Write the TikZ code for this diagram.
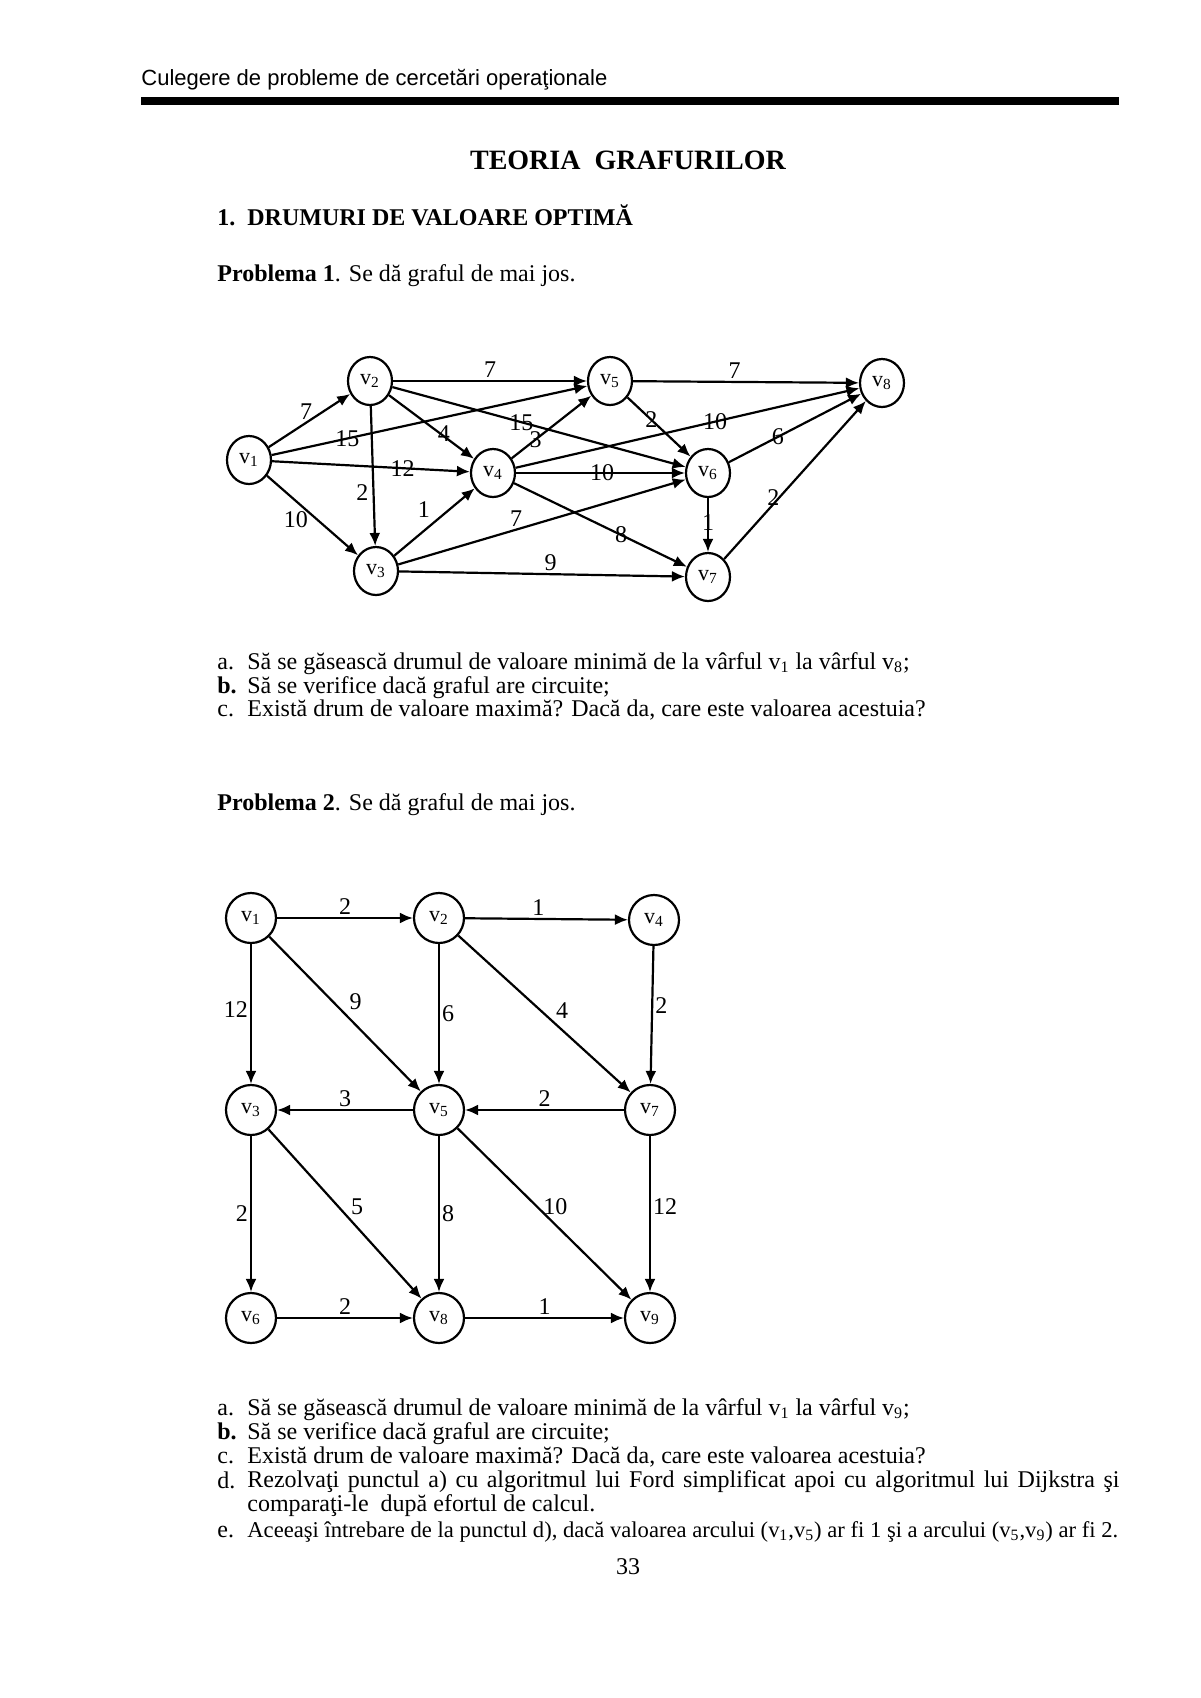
\documentclass[tikz,border=0pt]{standalone}
\usepackage{fontspec}
\setmainfont{Liberation Serif}
\newfontfamily\hdrfont{Liberation Sans}
\usetikzlibrary{positioning, shapes.geometric, arrows.meta}

\begin{document}
\begin{tikzpicture}[
    x=0.5pt, y=-0.5pt,
    vertex/.style={draw, ellipse, line width=1.1pt, minimum width=22pt,
                   minimum height=24pt, inner sep=0pt,
                   font=\fontsize{11}{11}\selectfont},
    vertexb/.style={draw, circle, line width=1.1pt, minimum size=25pt,
                    inner sep=0pt, font=\fontsize{11}{11}\selectfont},
    arw/.style={-{Latex[length=6.5pt, width=5.5pt]}, line width=1.1pt},
    weight/.style={font=\fontsize{12}{12}\selectfont, inner sep=1pt},
    txt/.style={anchor=base west, inner sep=0pt,
                font=\fontsize{12}{12}\selectfont},
]
\useasboundingbox[fill=white] (0,0) rectangle (1200,1698);

% --- Page head ---
\node[anchor=base west, inner sep=0pt, font=\hdrfont\fontsize{11}{11}\selectfont]
    (head) at (141,85) {Culegere de probleme de cercetări operaţionale};
\fill (141,97) rectangle (1119,105);
\node[anchor=base, inner sep=0pt, font=\bfseries\fontsize{14}{14}\selectfont]
    (title) at (628,169) {TEORIA\ \ GRAFURILOR};
\node[txt, font=\bfseries\fontsize{12}{12}\selectfont] (sect) at (217,225)
    {1.\ \ DRUMURI DE VALOARE OPTIMĂ};
\node[txt] (prob1) at (217,281) {\textbf{Problema 1}. Se dă graful de mai jos.};

% --- Graph 1 ---
\node[vertex] (a1) at (249,460) {v\textsubscript{1}};
\node[vertex] (a2) at (370,381) {v\textsubscript{2}};
\node[vertex] (a3) at (376,571) {v\textsubscript{3}};
\node[vertex] (a4) at (493,473) {v\textsubscript{4}};
\node[vertex] (a5) at (610,381) {v\textsubscript{5}};
\node[vertex] (a6) at (708,473) {v\textsubscript{6}};
\node[vertex] (a7) at (708,577) {v\textsubscript{7}};
\node[vertex] (a8) at (882,383) {v\textsubscript{8}};

\draw[arw] (a1) -- node[weight, pos=.46, above] {7} (a2);
\draw[arw] (a1) -- node[weight, pos=.24] {15} (a5);
\draw[arw] (a1) -- node[weight, pos=.66] {12} (a4);
\draw[arw] (a1) -- node[weight, pos=.55, left=3pt] {10} (a3);
\draw[arw] (a2) -- node[weight, pos=.5, above] {7} (a5);
\draw[arw] (a2) -- node[weight, pos=.44] {15} (a6);
\draw[arw] (a2) -- node[weight, pos=.6, xshift=2pt] {4} (a4);
\draw[arw] (a2) -- node[weight, pos=.62, left=1pt] {2} (a3);
\draw[arw] (a3) -- node[weight, pos=.5, above left=1pt] {1} (a4);
\draw[arw] (a3) -- node[weight, pos=.41, above] {7} (a6);
\draw[arw] (a3) -- node[weight, pos=.53, above] {9} (a7);
\draw[arw] (a4) -- node[weight, pos=.3] {3} (a5);
\draw[arw] (a4) -- node[weight, pos=.58] {10} (a8);
\draw[arw] (a4) -- node[weight, pos=.51] {10} (a6);
\draw[arw] (a4) -- node[weight, pos=.62] {8} (a7);
\draw[arw] (a5) -- node[weight, pos=.45, above] {7} (a8);
\draw[arw] (a5) -- node[weight, pos=.38] {2} (a6);
\draw[arw] (a6) -- node[weight, pos=.37] {6} (a8);
\draw[arw] (a6) -- node[weight, pos=.45] {1} (a7);
\draw[arw] (a7) -- node[weight, pos=.39, xshift=-3pt] {2} (a8);

% --- Questions 1 ---
\node[txt] (q1a) at (217,669) {a.};
\node[txt] (t1a) at (247,669)
    {Să se găsească drumul de valoare minimă de la vârful v\textsubscript{1} la vârful v\textsubscript{8};};
\node[txt] (q1b) at (217,693) {\textbf{b.}};
\node[txt] (t1b) at (247,693) {Să se verifice dacă graful are circuite;};
\node[txt] (q1c) at (217,716) {c.};
\node[txt] (t1c) at (247,716)
    {Există drum de valoare maximă? Dacă da, care este valoarea acestuia?};
\node[txt] (prob2) at (217,810) {\textbf{Problema 2}. Se dă graful de mai jos.};

% --- Graph 2 ---
\node[vertexb] (b1) at (251,918) {v\textsubscript{1}};
\node[vertexb] (b2) at (439,918) {v\textsubscript{2}};
\node[vertexb] (b4) at (654,920) {v\textsubscript{4}};
\node[vertexb] (b3) at (251,1110) {v\textsubscript{3}};
\node[vertexb] (b5) at (439,1110) {v\textsubscript{5}};
\node[vertexb] (b7) at (650,1110) {v\textsubscript{7}};
\node[vertexb] (b6) at (251,1318) {v\textsubscript{6}};
\node[vertexb] (b8) at (439,1318) {v\textsubscript{8}};
\node[vertexb] (b9) at (650,1318) {v\textsubscript{9}};

\draw[arw] (b1) -- node[weight, pos=.5, above] {2} (b2);
\draw[arw] (b2) -- node[weight, pos=.45, above] {1} (b4);
\draw[arw] (b1) -- node[weight, pos=.47, left=0pt] {12} (b3);
\draw[arw] (b1) -- node[weight, pos=.5, above right=1pt] {9} (b5);
\draw[arw] (b2) -- node[weight, pos=.5, right=0pt] {6} (b5);
\draw[arw] (b2) -- node[weight, pos=.55, above right=0pt] {4} (b7);
\draw[arw] (b4) -- node[weight, pos=.43, right=0pt] {2} (b7);
\draw[arw] (b5) -- node[weight, pos=.5, above] {3} (b3);
\draw[arw] (b7) -- node[weight, pos=.5, above] {2} (b5);
\draw[arw] (b3) -- node[weight, pos=.5, left=0pt] {2} (b6);
\draw[arw] (b3) -- node[weight, pos=.52, above right=0pt] {5} (b8);
\draw[arw] (b5) -- node[weight, pos=.5, right=0pt] {8} (b8);
\draw[arw] (b5) -- node[weight, pos=.5, above right=-3pt] {10} (b9);
\draw[arw] (b7) -- node[weight, pos=.45, right=0pt] {12} (b9);
\draw[arw] (b6) -- node[weight, pos=.5, above] {2} (b8);
\draw[arw] (b8) -- node[weight, pos=.5, above] {1} (b9);

% --- Questions 2 ---
\node[txt] (q2a) at (217,1415) {a.};
\node[txt] (t2a) at (247,1415)
    {Să se găsească drumul de valoare minimă de la vârful v\textsubscript{1} la vârful v\textsubscript{9};};
\node[txt] (q2b) at (217,1439) {\textbf{b.}};
\node[txt] (t2b) at (247,1439) {Să se verifice dacă graful are circuite;};
\node[txt] (q2c) at (217,1463) {c.};
\node[txt] (t2c) at (247,1463)
    {Există drum de valoare maximă? Dacă da, care este valoarea acestuia?};
\node[txt] (q2d) at (217,1488) {d.};
\node[anchor=north west, inner sep=0pt, text width=436pt, align=justify,
      font=\fontsize{12}{12}\selectfont] (t2d) at (247,1470)
    {Rezolvaţi punctul a) cu algoritmul lui Ford simplificat apoi cu algoritmul lui Dijkstra şi comparaţi-le\ \ după efortul de calcul.};
\node[txt] (q2e) at (217,1537) {e.};
\node[txt, font=\fontsize{11.3}{12}\selectfont] (t2e) at (247,1537)
    {Aceeaşi întrebare de la punctul d), dacă valoarea arcului (v\textsubscript{1},v\textsubscript{5}) ar fi 1 şi a arcului (v\textsubscript{5},v\textsubscript{9}) ar fi 2.};
\node[anchor=base, inner sep=0pt, font=\fontsize{12}{12}\selectfont]
    (pagenum) at (628,1574) {33};
\end{tikzpicture}
\end{document}
